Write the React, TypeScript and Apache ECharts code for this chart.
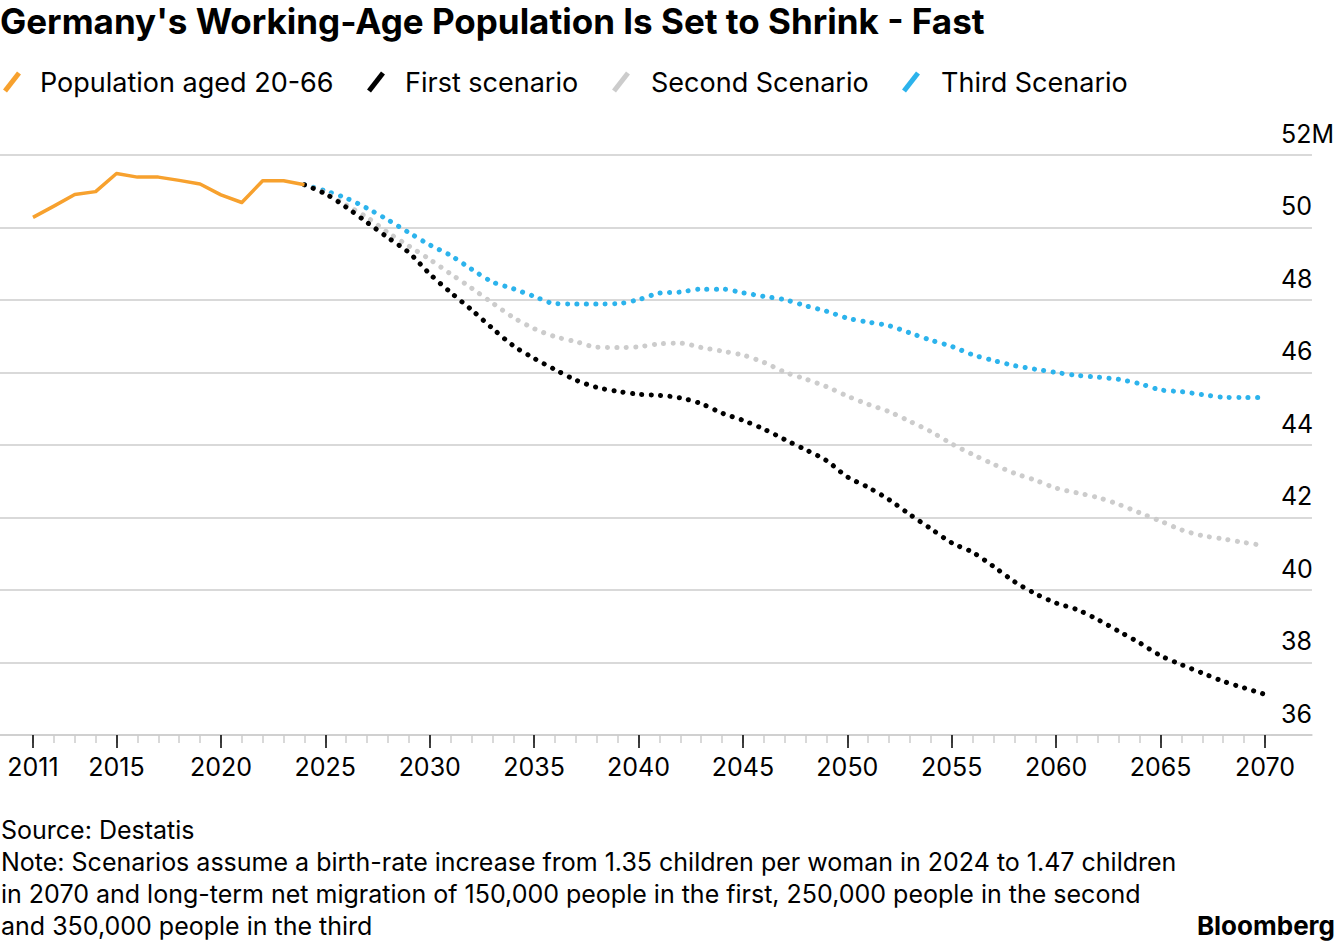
import React, { useEffect, useRef } from "react";
import * as echarts from "echarts";

const FONT = "Inter, 'Liberation Sans', sans-serif";

const histYears = [2011, 2012, 2013, 2014, 2015, 2016, 2017, 2018, 2019, 2020, 2021, 2022, 2023, 2024];
const histValues = [50.28, 50.59, 50.91, 50.99, 51.49, 51.39, 51.39, 51.3, 51.2, 50.9, 50.69, 51.29, 51.29, 51.18];

const scenarioYears = [
  2024, 2025, 2026, 2027, 2028, 2029, 2030, 2031, 2032, 2033, 2034, 2035, 2036, 2037, 2038, 2039,
  2040, 2041, 2042, 2043, 2044, 2045, 2046, 2047, 2048, 2049, 2050, 2051, 2052, 2053, 2054, 2055,
  2056, 2057, 2058, 2059, 2060, 2061, 2062, 2063, 2064, 2065, 2066, 2067, 2068, 2069, 2070,
];
const firstScenario = [
  51.18, 50.93, 50.56, 50.14, 49.72, 49.31, 48.72, 48.21, 47.73, 47.22, 46.74, 46.39, 46.08, 45.79, 45.59, 45.48,
  45.4, 45.37, 45.3, 45.14, 44.88, 44.68, 44.44, 44.15, 43.87, 43.57, 43.12, 42.83, 42.49, 42.08, 41.69, 41.3,
  41.04, 40.65, 40.23, 39.9, 39.64, 39.46, 39.18, 38.86, 38.54, 38.19, 37.94, 37.71, 37.48, 37.3, 37.12,
];
const secondScenario = [
  51.18, 50.95, 50.62, 50.28, 49.86, 49.49, 49.12, 48.72, 48.33, 47.92, 47.52, 47.21, 46.99, 46.85, 46.7, 46.69,
  46.71, 46.79, 46.81, 46.69, 46.59, 46.48, 46.28, 46.01, 45.82, 45.61, 45.35, 45.12, 44.92, 44.65, 44.37, 44.03,
  43.74, 43.47, 43.22, 43.03, 42.81, 42.68, 42.55, 42.36, 42.13, 41.9, 41.66, 41.5, 41.41, 41.31, 41.22,
];
const thirdScenario = [
  51.18, 51.01, 50.81, 50.53, 50.21, 49.86, 49.52, 49.23, 48.85, 48.5, 48.31, 48.1, 47.9, 47.89, 47.89, 47.9,
  48.01, 48.19, 48.22, 48.3, 48.3, 48.2, 48.1, 48.01, 47.84, 47.69, 47.5, 47.39, 47.29, 47.09, 46.89, 46.72,
  46.49, 46.33, 46.19, 46.09, 46.0, 45.92, 45.87, 45.81, 45.69, 45.52, 45.47, 45.39, 45.32, 45.31, 45.31,
];

const xLabelYears = [2011, 2015, 2020, 2025, 2030, 2035, 2040, 2045, 2050, 2055, 2060, 2065, 2070];
const allYears = Array.from({ length: 60 }, (_, i) => 2011 + i);

const seriesNames = ["Population aged 20-66", "First scenario", "Second Scenario", "Third Scenario"];
const seriesColors = ["#f7a12e", "#000000", "#cccccc", "#2cb3ec"];

const title = "Germany's Working-Age Population Is Set to Shrink - Fast";
const source = "Source: Destatis";
const noteLines = [
  "Note: Scenarios assume a birth-rate increase from 1.35 children per woman in 2024 to 1.47 children",
  "in 2070 and long-term net migration of 150,000 people in the first, 250,000 people in the second",
  "and 350,000 people in the third",
];

const pair = (xs: number[], ys: number[]) => xs.map((x, i) => [x, ys[i]]);

export default function App() {
  const ref = useRef<HTMLDivElement>(null);
  useEffect(() => {
    if (!ref.current) return;
    const chart = echarts.init(ref.current, undefined, { renderer: "svg" });
    const legendIconX = [5, 369, 614, 904];
    const legendTextX = [40, 405, 651, 941];
    const dotted = (color: string) => ({
      color,
      width: 5,
      type: [0.1, 9.3] as any,
      cap: "round" as any,
    });
    const option: any = {
      animation: false,
      backgroundColor: "#ffffff",
      textStyle: { fontFamily: FONT },
      grid: { left: 0, right: 23, top: 155, bottom: 209, containLabel: false },
      xAxis: [
        {
          type: "value",
          min: 2009.42,
          max: 2072.25,
          axisLine: { show: true, lineStyle: { color: "#cccccc", width: 1.5 } },
          axisTick: {
            show: true,
            customValues: allYears,
            length: 8,
            lineStyle: { color: "#cccccc", width: 1.5 },
          },
          axisLabel: { show: false },
          splitLine: { show: false },
        },
        {
          type: "value",
          min: 2009.42,
          max: 2072.25,
          position: "bottom",
          axisLine: { show: false },
          axisTick: {
            show: true,
            customValues: xLabelYears,
            length: 13,
            lineStyle: { color: "#000000", width: 1.5 },
          },
          axisLabel: {
            show: true,
            customValues: xLabelYears,
            margin: 19,
            fontSize: 25,
            color: "#000",
            fontFamily: FONT,
            formatter: (v: number) => String(v),
          },
          splitLine: { show: false },
        },
      ],
      yAxis: {
        type: "value",
        position: "right",
        min: 36,
        max: 52,
        interval: 2,
        axisLine: { show: false },
        axisTick: { show: false },
        splitLine: { show: true, lineStyle: { color: "#cccccc", width: 1.5 } },
        axisLabel: {
          margin: -31,
          align: "left",
          verticalAlign: "bottom",
          lineHeight: 43,
          fontSize: 25,
          color: "#000",
          fontFamily: FONT,
          formatter: (v: number) => (v === 52 ? "52M" : String(v)),
        },
      },
      series: [
        {
          name: seriesNames[3],
          type: "line",
          xAxisIndex: 0,
          data: pair(scenarioYears, thirdScenario),
          smooth: 0.3,
          symbol: "none",
          lineStyle: dotted(seriesColors[3]),
          silent: true,
        },
        {
          name: seriesNames[2],
          type: "line",
          xAxisIndex: 0,
          data: pair(scenarioYears, secondScenario),
          smooth: 0.3,
          symbol: "none",
          lineStyle: dotted(seriesColors[2]),
          silent: true,
        },
        {
          name: seriesNames[1],
          type: "line",
          xAxisIndex: 0,
          data: pair(scenarioYears, firstScenario),
          smooth: 0.3,
          symbol: "none",
          lineStyle: dotted(seriesColors[1]),
          silent: true,
        },
        {
          name: seriesNames[0],
          type: "line",
          xAxisIndex: 0,
          data: pair(histYears, histValues),
          symbol: "none",
          lineStyle: { color: seriesColors[0], width: 3.5, join: "round" },
          silent: true,
        },
      ],
      graphic: [
        {
          type: "text",
          x: 0,
          y: 21,
          style: {
            text: title,
            font: `bold 35px ${FONT}`,
            fill: "#000",
            verticalAlign: "middle",
          },
        },
        ...seriesNames.flatMap((name, i) => [
          {
            type: "line",
            shape: { x1: legendIconX[i], y1: 91, x2: legendIconX[i] + 14, y2: 73 },
            style: { stroke: seriesColors[i], lineWidth: 5 },
          },
          {
            type: "text",
            x: legendTextX[i],
            y: 82,
            style: {
              text: name,
              font: `27px ${FONT}`,
              fill: "#000",
              verticalAlign: "middle",
            },
          },
        ]),
        {
          type: "text",
          x: 1,
          y: 830,
          style: { text: source, font: `25px ${FONT}`, fill: "#000", verticalAlign: "middle" },
        },
        ...noteLines.map((t, i) => ({
          type: "text",
          x: 1,
          y: 862 + i * 32,
          style: { text: t, font: `25px ${FONT}`, fill: "#000", verticalAlign: "middle" },
        })),
        {
          type: "text",
          x: 1335,
          y: 925,
          style: {
            text: "Bloomberg",
            font: `bold 26px ${FONT}`,
            fill: "#000",
            align: "right",
            verticalAlign: "middle",
          },
        },
      ],
    };
    chart.setOption(option);
    return () => chart.dispose();
  }, []);
  return (
    <div
      ref={ref}
      style={{ position: "fixed", left: 0, top: 0, width: 1337, height: 944, background: "#fff" }}
    />
  );
}
